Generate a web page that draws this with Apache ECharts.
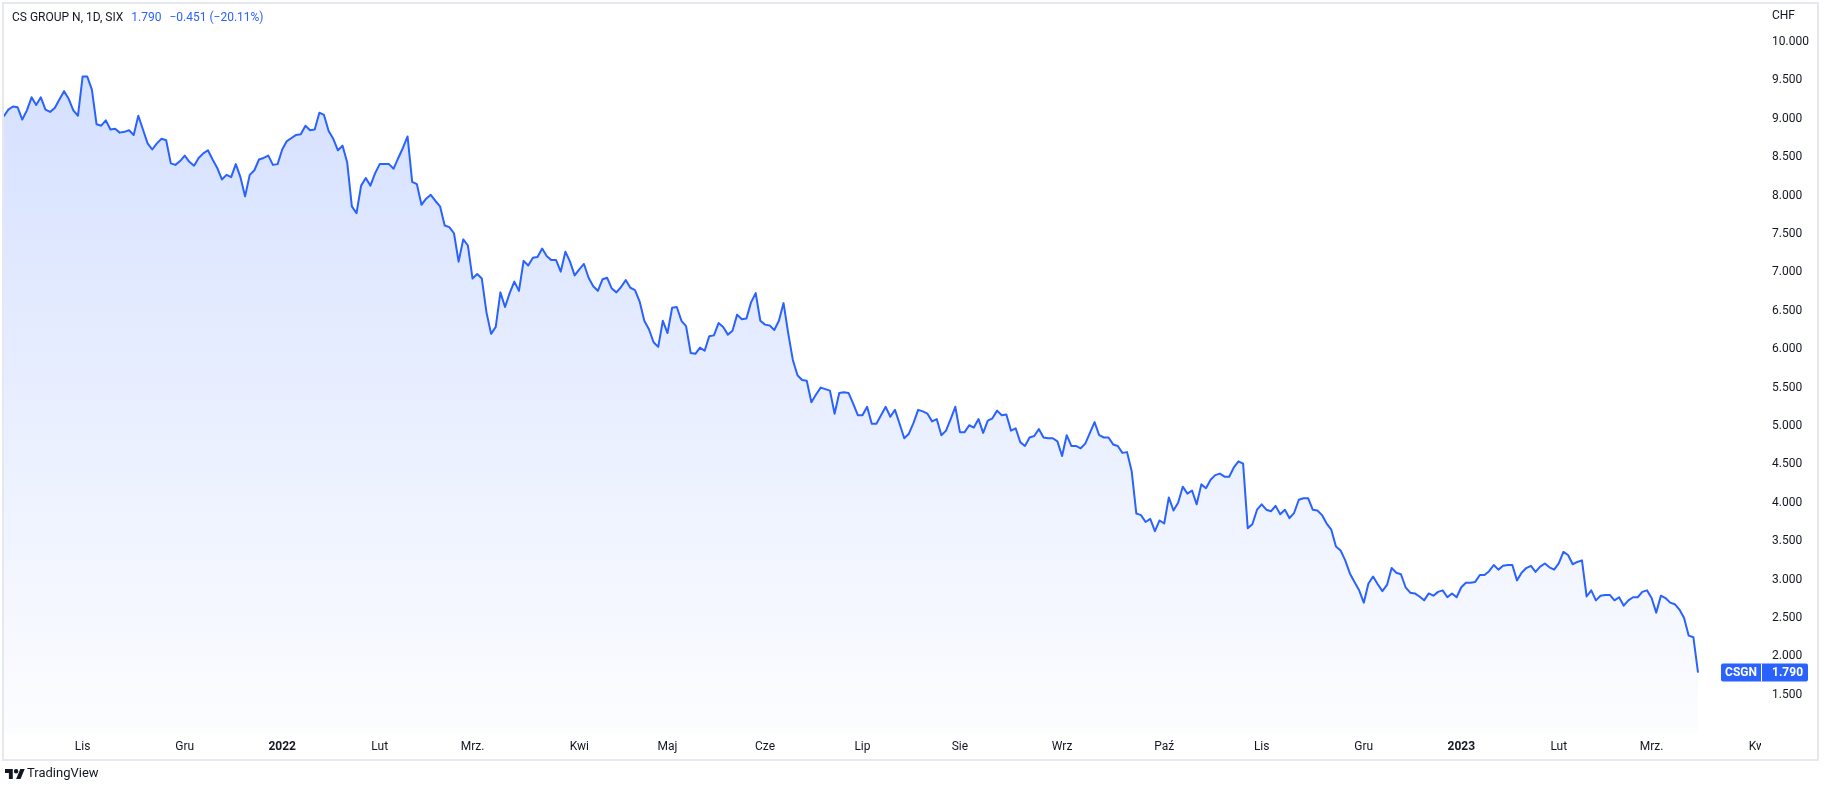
<!DOCTYPE html>
<html>
<head>
<meta charset="utf-8">
<title>CS GROUP N, 1D, SIX</title>
<script src="https://cdn.jsdelivr.net/npm/echarts@6.0.0/dist/echarts.min.js"></script>
<style>
html, body { margin: 0; padding: 0; background: #fff; }
#chart { width: 1824px; height: 787px; }
</style>
</head>
<body>
<div id="chart"></div>
<script>
// daily closes, CHF
const prices2021 = [
  9.03, 9.12, 9.16, 9.15, 8.99, 9.11, 9.28, 9.18, 9.28, 9.12,
  9.09, 9.14, 9.25, 9.36, 9.26, 9.11, 9.04, 9.55, 9.55, 9.38,
  8.93, 8.91, 8.98, 8.86, 8.87, 8.82, 8.83, 8.85, 8.79, 9.04,
  8.86, 8.68, 8.60, 8.68, 8.74, 8.72, 8.42, 8.40, 8.45, 8.52,
  8.44, 8.39, 8.49, 8.55, 8.59, 8.47, 8.36, 8.21, 8.27, 8.24,
  8.41, 8.24, 7.99, 8.27, 8.33, 8.47, 8.49, 8.52, 8.40, 8.41
]
const prices2022 = [
  8.60, 8.71, 8.75, 8.79, 8.80, 8.91, 8.85, 8.86, 9.08, 9.05,
  8.84, 8.74, 8.59, 8.65, 8.43, 7.86, 7.77, 8.13, 8.23, 8.13,
  8.29, 8.41, 8.41, 8.41, 8.35, 8.49, 8.62, 8.77, 8.18, 8.15,
  7.88, 7.96, 8.01, 7.93, 7.86, 7.61, 7.59, 7.51, 7.14, 7.43,
  7.35, 6.92, 6.98, 6.92, 6.48, 6.20, 6.29, 6.74, 6.55, 6.73,
  6.88, 6.76, 7.15, 7.09, 7.19, 7.20, 7.31, 7.21, 7.16, 7.16,
  7.01, 7.27, 7.14, 6.96, 7.04, 7.11, 6.93, 6.82, 6.76, 6.91,
  6.93, 6.79, 6.74, 6.81, 6.90, 6.80, 6.77, 6.62, 6.37, 6.26,
  6.09, 6.03, 6.37, 6.21, 6.54, 6.55, 6.37, 6.30, 5.95, 5.94,
  6.02, 5.98, 6.17, 6.18, 6.34, 6.29, 6.19, 6.24, 6.45, 6.39,
  6.40, 6.61, 6.73, 6.37, 6.32, 6.31, 6.25, 6.37, 6.60, 6.21,
  5.86, 5.66, 5.60, 5.59, 5.31, 5.41, 5.50, 5.48, 5.46, 5.16,
  5.43, 5.44, 5.43, 5.29, 5.14, 5.14, 5.25, 5.03, 5.03, 5.14,
  5.25, 5.12, 5.21, 5.03, 4.84, 4.90, 5.04, 5.21, 5.19, 5.16,
  5.06, 5.09, 4.88, 4.94, 5.09, 5.25, 4.92, 4.92, 5.01, 4.98,
  5.09, 4.91, 5.07, 5.10, 5.20, 5.14, 5.15, 4.94, 4.97, 4.79,
  4.74, 4.85, 4.87, 4.96, 4.85, 4.84, 4.84, 4.80, 4.61, 4.88,
  4.74, 4.74, 4.71, 4.77, 4.91, 5.05, 4.88, 4.85, 4.85, 4.76,
  4.74, 4.65, 4.66, 4.41, 3.86, 3.84, 3.75, 3.79, 3.63, 3.77,
  3.73, 4.07, 3.90, 4.00, 4.21, 4.12, 4.16, 3.98, 4.24, 4.19,
  4.30, 4.36, 4.38, 4.34, 4.34, 4.46, 4.54, 4.51, 3.67, 3.72,
  3.91, 3.98, 3.91, 3.89, 3.96, 3.85, 3.91, 3.80, 3.87, 4.04,
  4.06, 4.06, 3.91, 3.90, 3.84, 3.73, 3.65, 3.43, 3.38, 3.25,
  3.08, 2.97, 2.86, 2.70, 2.95, 3.04, 2.94, 2.85, 2.93, 3.15,
  3.09, 3.07, 2.90, 2.83, 2.82, 2.78, 2.73, 2.82, 2.79, 2.84,
  2.86, 2.77, 2.82, 2.77
]
const prices2023 = [
  2.90, 2.96, 2.96, 2.97, 3.06, 3.06,
  3.11, 3.19, 3.13, 3.18, 3.19, 3.19, 2.99, 3.09, 3.15, 3.18,
  3.10, 3.17, 3.21, 3.16, 3.13, 3.21, 3.36, 3.32, 3.20, 3.23,
  3.25, 2.78, 2.86, 2.73, 2.79, 2.80, 2.80, 2.73, 2.77, 2.66,
  2.73, 2.77, 2.77, 2.84, 2.86, 2.76, 2.57, 2.79, 2.76, 2.70,
  2.68, 2.61, 2.50, 2.27, 2.25, 1.79
]
const closePrices = prices2021.concat(prices2022, prices2023)

// SIX trading calendar for the x axis (axis runs a bit past the last close)
const firstDay = '2021-10-07'
const lastDay = '2023-04-04'
const holidays = ['2021-12-24', '2021-12-31', '2022-04-15', '2022-04-18', '2022-05-26',
  '2022-06-06', '2022-08-01', '2022-12-26', '2023-01-02']
const monthNames = ['Sty', 'Lut', 'Mrz.', 'Kwi', 'Maj', 'Cze', 'Lip', 'Sie', 'Wrz', 'Paź', 'Lis', 'Gru']
const priceTicks = { min: 1.0, max: 10.5, step: 0.5, firstLabel: 1.5, lastLabel: 10 }

const headerName = 'CS GROUP N, 1D, SIX'
const lastPrice = 1.790
const change = '\u22120.451 (\u221220.11%)'

function tradingDays (from, to) {
  const out = []
  const d = new Date(from + 'T00:00:00Z')
  const end = new Date(to + 'T00:00:00Z')
  while (d <= end) {
    const wd = d.getUTCDay()
    const s = d.toISOString().slice(0, 10)
    if (wd !== 0 && wd !== 6 && holidays.indexOf(s) < 0) out.push(s)
    d.setUTCDate(d.getUTCDate() + 1)
  }
  return out
}
const dates = tradingDays(firstDay, lastDay)

const font = 'Roboto, "Noto Sans", sans-serif'
const myChart = echarts.init(document.getElementById('chart'))

myChart.setOption({
  animation: false,
  backgroundColor: '#ffffff',
  title: [
    {
      left: 12,
      top: 12,
      padding: 0,
      text: '{a|' + headerName + '}{b|' + lastPrice.toFixed(3) + '}{c|' + change + '}',
      textStyle: {
        fontFamily: font,
        fontSize: 12,
        fontWeight: 'normal',
        rich: {
          a: { color: '#131722', fontSize: 12, fontWeight: 'normal', fontFamily: font },
          b: { color: '#2962ff', fontSize: 12, fontWeight: 'normal', fontFamily: font, padding: [0, 0, 0, 8] },
          c: { color: '#2962ff', fontSize: 12, fontWeight: 'normal', fontFamily: font, padding: [0, 0, 0, 8] }
        }
      }
    },
    {
      left: 1772,
      top: 10,
      padding: 0,
      text: 'CHF',
      textStyle: { color: '#131722', fontSize: 12, fontWeight: 'normal', fontFamily: font }
    }
  ],
  grid: {
    left: 3.7,
    right: 61,
    top: 3.6,
    bottom: 53.8,
    outerBoundsMode: 'none'
  },
  xAxis: {
    type: 'category',
    boundaryGap: false,
    data: dates,
    axisLine: { show: false },
    axisTick: { show: false },
    splitLine: { show: false },
    axisLabel: {
      margin: 8,
      color: '#131722',
      fontSize: 12,
      fontFamily: font,
      interval: function (index, value) {
        return index > 0 && value.slice(0, 7) !== dates[index - 1].slice(0, 7)
      },
      formatter: function (value) {
        const m = +value.slice(5, 7)
        if (m === 1) return '{y|' + value.slice(0, 4) + '}'
        return monthNames[m - 1]
      },
      rich: {
        y: { fontWeight: 'bold', color: '#131722', fontSize: 12, fontFamily: font }
      }
    }
  },
  yAxis: {
    type: 'value',
    position: 'right',
    min: priceTicks.min,
    max: priceTicks.max,
    interval: priceTicks.step,
    axisLine: { show: false },
    axisTick: { show: false },
    splitLine: { show: false },
    axisLabel: {
      align: 'left',
      margin: 9,
      color: '#131722',
      fontSize: 12,
      fontFamily: font,
      formatter: function (v) {
        if (v < priceTicks.firstLabel - 1e-6 || v > priceTicks.lastLabel + 1e-6) return ''
        return v.toFixed(3)
      }
    }
  },
  series: [{
    name: 'CSGN',
    type: 'line',
    data: closePrices,
    symbol: 'none',
    silent: true,
    lineStyle: { color: '#2962ff', width: 2, join: 'round' },
    itemStyle: { color: '#2962ff' },
    areaStyle: {
      color: new echarts.graphic.LinearGradient(0, 0, 0, 1, [
        { offset: 0, color: 'rgba(41, 98, 255, 0.28)' },
        { offset: 1, color: 'rgba(41, 98, 255, 0.02)' }
      ])
    }
  }]
})

// price tag on the axis + frame + logo
const yLast = myChart.convertToPixel({ yAxisIndex: 0 }, lastPrice)
const s = 10 / 18
const ox = 5
const oy = 769 - 4 * s
function pts (arr) {
  return arr.map(p => [ox + p[0] * s, oy + p[1] * s])
}

myChart.setOption({
  graphic: [
    {
      type: 'rect',
      z: 100,
      shape: { x: 1761, y: 736, width: 52, height: 20 },
      style: { fill: '#ffffff' }
    },
    {
      type: 'rect',
      z: 101,
      shape: { x: 3, y: 3, width: 1815, height: 757 },
      style: { fill: 'none', stroke: '#e6e8ef', lineWidth: 2 }
    },
    {
      type: 'rect',
      z: 110,
      shape: { x: 1721, y: yLast - 9, width: 87, height: 18, r: 2 },
      style: { fill: '#2962ff' }
    },
    {
      type: 'line',
      z: 111,
      shape: { x1: 1761.5, y1: yLast - 9, x2: 1761.5, y2: yLast + 9 },
      style: { stroke: '#ffffff', lineWidth: 1 }
    },
    {
      type: 'text',
      z: 112,
      x: 1741,
      y: yLast,
      style: { text: 'CSGN', fill: '#ffffff', font: 'bold 12px ' + font, textAlign: 'center', textVerticalAlign: 'middle' }
    },
    {
      type: 'text',
      z: 112,
      x: 1772,
      y: yLast,
      style: { text: lastPrice.toFixed(3), fill: '#ffffff', font: 'bold 12px ' + font, textAlign: 'left', textVerticalAlign: 'middle' }
    },
    {
      type: 'polygon',
      z: 105,
      shape: { points: pts([[14, 22], [7, 22], [7, 11], [0, 11], [0, 4], [14, 4]]) },
      style: { fill: '#131722' }
    },
    {
      type: 'circle',
      z: 105,
      shape: { cx: ox + 20 * s, cy: oy + 8 * s, r: 4 * s },
      style: { fill: '#131722' }
    },
    {
      type: 'polygon',
      z: 105,
      shape: { points: pts([[28, 22], [20, 22], [27.5, 4], [35.5, 4]]) },
      style: { fill: '#131722' }
    },
    {
      type: 'text',
      z: 105,
      x: 27,
      y: 774,
      style: { text: 'TradingView', fill: '#131722', font: '13px ' + font, textAlign: 'left', textVerticalAlign: 'middle' }
    }
  ]
})
</script>
</body>
</html>
